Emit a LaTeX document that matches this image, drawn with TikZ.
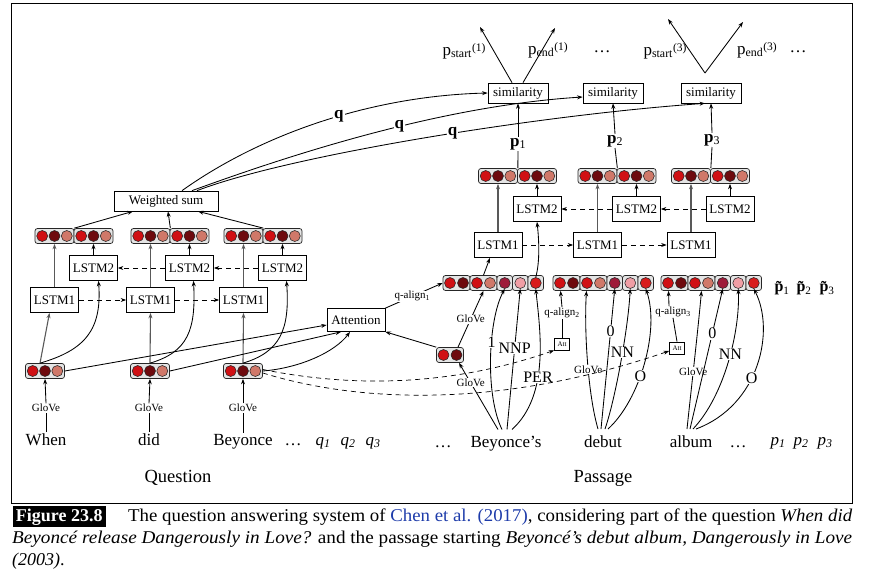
\documentclass[tikz,border=0pt]{standalone}
\usepackage{fontspec}
\setmainfont{Liberation Serif}
\usepackage{graphicx}
\usetikzlibrary{arrows.meta}
\definecolor{cR}{RGB}{208,16,20}
\definecolor{cR2}{RGB}{216,28,28}
\definecolor{cD}{RGB}{110,10,14}
\definecolor{cS}{RGB}{208,120,105}
\definecolor{cC}{RGB}{158,27,58}
\definecolor{cP}{RGB}{240,158,165}
\definecolor{chen}{RGB}{30,60,170}
\newcommand{\vthree}[3]{%
  \node[vbox, minimum width=39pt] (#1) at (#2,#3) {};
  \node[cir, fill=cR] (#1-1) at ([xshift=-12.3pt]#1.center) {};
  \node[cir, fill=cD] (#1-2) at (#1.center) {};
  \node[cir, fill=cS] (#1-3) at ([xshift=12.3pt]#1.center) {};}
\newcommand{\vpass}[3]{%
  \node[vbox, minimum width=27pt] (#1-b1) at (#2+13.5,#3) {};
  \node[vbox, minimum width=27pt] (#1-b2) at (#2+40.5,#3) {};
  \node[vbox, minimum width=15.5pt] (#1-b3) at (#2+61.75,#3) {};
  \node[vbox, minimum width=15.5pt] (#1-b4) at (#2+77.25,#3) {};
  \node[vbox, minimum width=15.5pt] (#1-b5) at (#2+92.75,#3) {};
  \node[cir, fill=cR] (#1-c1) at (#2+7,#3) {};
  \node[cir, fill=cD] (#1-c2) at (#2+20,#3) {};
  \node[cir, fill=cR] (#1-c3) at (#2+34,#3) {};
  \node[cir, fill=cS] (#1-c4) at (#2+47,#3) {};
  \node[cir, fill=cC] (#1-c5) at (#2+61.75,#3) {};
  \node[cir, fill=cP] (#1-c6) at (#2+77.25,#3) {};
  \node[cir, fill=cR2] (#1-c7) at (#2+92.75,#3) {};}
\newcommand{\ptil}[1]{{\bfseries p\char"0303}\textsubscript{#1}}
\newcommand{\pout}[2]{p\textsubscript{#1}\raisebox{4pt}{\fontsize{11.5}{12}\selectfont(#2)}}
\begin{document}
\begin{tikzpicture}[x=1pt,y=-1pt,
  boxn/.style={draw, line width=0.7pt, fill=white, inner sep=0pt, minimum width=48pt, minimum height=25pt, font=\fontsize{13}{15}\selectfont},
  simbox/.style={boxn, minimum width=60pt, minimum height=20pt},
  attbox/.style={draw, line width=0.7pt, fill=white, inner sep=0pt, minimum width=15pt, minimum height=12pt, font=\fontsize{7}{8}\selectfont},
  vbox/.style={draw=black!85, line width=0.7pt, rounded corners=2.5pt, fill=black!10, minimum height=15pt, inner sep=0pt},
  cir/.style={circle, draw=black!85, line width=0.55pt, minimum size=11pt, inner sep=0pt},
  arr/.style={-{Stealth[length=5.5pt,width=4pt]}, line width=0.85pt},
  garr/.style={arr, draw=black!65, line width=1.1pt},
  darr/.style={arr, dash pattern=on 5pt off 4pt},
  plain/.style={line width=0.85pt},
  glab/.style={fill=white, inner sep=0.6pt, font=\fontsize{11}{12}\selectfont},
  qlab/.style={fill=white, inner sep=0.6pt, font=\fontsize{11}{12}\selectfont},
  flab/.style={fill=white, inner sep=0.6pt, font=\fontsize{16}{18}\selectfont},
  wordt/.style={inner sep=1pt, anchor=base, font=\fontsize{17}{20}\selectfont},
  bigt/.style={inner sep=1pt, font=\fontsize{18.5}{22}\selectfont},
  blab/.style={fill=white, inner sep=1pt, font=\fontsize{17}{20}\selectfont},
  plab/.style={inner sep=1pt, font=\fontsize{17}{20}\selectfont},
  capt/.style={inner sep=0pt, anchor=base west, font=\fontsize{18}{22}\selectfont}
]
\useasboundingbox (0,0) rectangle (875,572);
\draw[line width=1pt] (11,4) rectangle (852,503);

% ---------------- Question side ----------------
\vthree{qv1}{45}{371}
\vthree{qv2}{150}{371}
\vthree{qv3}{243}{371}
\node[glab] (gq1) at (46,408) {GloVe};
\node[glab] (gq2) at (149,408) {GloVe};
\node[glab] (gq3) at (243,408) {GloVe};
\node[wordt] (w1) at (46,445) {When};
\node[wordt] (w2) at (149,445) {did};
\node[wordt] (w3) at (243,445) {Beyonce};
\node[wordt] (qdots) at (293,445) {\dots};
\node[wordt] (qq1) at (323,445) {\textit{q}\textsubscript{\textit{1}}};
\node[wordt] (qq2) at (348,445) {\textit{q}\textsubscript{\textit{2}}};
\node[wordt] (qq3) at (373,445) {\textit{q}\textsubscript{\textit{3}}};
\node[bigt] (question) at (178,478) {Question};

\foreach \i in {1,2,3}{
  \draw[plain] (w\i.north) -- (gq\i.south);
  \draw[arr] (gq\i.north) -- (qv\i.south);
}

\node[boxn] (l1a) at (54.5,300) {LSTM1};
\node[boxn] (l1b) at (150.5,300) {LSTM1};
\node[boxn] (l1c) at (243.5,300) {LSTM1};
\node[boxn] (l2a) at (93.5,268) {LSTM2};
\node[boxn] (l2b) at (189.5,268) {LSTM2};
\node[boxn] (l2c) at (282.5,268) {LSTM2};

\vthree{ta-L}{54.5}{236}
\vthree{ta-R}{93.5}{236}
\vthree{tb-L}{150.5}{236}
\vthree{tb-R}{189.5}{236}
\vthree{tc-L}{243.5}{236}
\vthree{tc-R}{282.5}{236}

\node[boxn, minimum width=104pt, minimum height=20pt] (ws) at (166,201) {Weighted sum};
\node[boxn, minimum width=58pt, minimum height=23pt] (att) at (356,320) {Attention};

\draw[garr] ([xshift=-5pt]qv1.north) -- ([xshift=-5pt]l1a.south);
\draw[garr] (qv2.north) -- (l1b.south);
\draw[garr] (qv3.north) -- (l1c.south);
\draw[arr] ([xshift=-5pt]qv1.north) .. controls (85,350) and (102,330) .. ([xshift=5pt]l2a.south);
\draw[arr] (qv2.north) .. controls (188,352) and (196,330) .. ([xshift=4pt]l2b.south);
\draw[arr] (qv3.north) .. controls (280,352) and (290,330) .. ([xshift=4pt]l2c.south);

\draw[garr] (l1a.north) -- (ta-L.south);
\draw[garr] (l1b.north) -- (tb-L.south);
\draw[garr] (l1c.north) -- (tc-L.south);
\draw[arr] (l2a.north) -- (ta-R.south);
\draw[arr] (l2b.north) -- (tb-R.south);
\draw[arr] (l2c.north) -- (tc-R.south);

\draw[darr] (l1a.east) -- (l1b.west);
\draw[darr] (l1b.east) -- (l1c.west);
\draw[darr] (l2c.west) -- (l2b.east);
\draw[darr] (l2b.west) -- (l2a.east);

\draw[arr] (ta-L.north east) -- ([xshift=-33pt]ws.south);
\draw[arr] (tb-L.north east) -- ([xshift=2pt]ws.south);
\draw[arr] (tc-L.north east) -- ([xshift=32pt]ws.south);

\draw[arr] (qv1.east) -- ([yshift=-5pt]att.west);
\draw[arr] (qv2.east) -- ([xshift=-15pt]att.south);
\draw[arr] (qv3.east) .. controls (300,368) and (335,352) .. ([xshift=-6pt]att.south);

% ---------------- Passage side ----------------
\vpass{pv1}{443}{283}
\vpass{pv2}{553}{283}
\vpass{pv3}{661}{283}
\node[vbox, minimum width=27pt] (sv) at (450,355) {};
\node[cir, fill=cR] (sv-1) at (443.5,355) {};
\node[cir, fill=cD] (sv-2) at (456.5,355) {};

\node[boxn] (pl1a) at (498,245) {LSTM1};
\node[boxn] (pl1b) at (597.5,245) {LSTM1};
\node[boxn] (pl1c) at (691,245) {LSTM1};
\node[boxn] (pl2a) at (537,209) {LSTM2};
\node[boxn] (pl2b) at (636.5,209) {LSTM2};
\node[boxn] (pl2c) at (730,209) {LSTM2};

\vthree{pa-L}{498}{176}
\vthree{pa-R}{537}{176}
\vthree{pb-L}{597.5}{176}
\vthree{pb-R}{636.5}{176}
\vthree{pc-L}{691}{176}
\vthree{pc-R}{730}{176}

\draw[garr] (pl1a.north) -- (pa-L.south);
\draw[garr] (pl1b.north) -- (pb-L.south);
\draw[garr] (pl1c.north) -- (pc-L.south);
\draw[arr] (pl2a.north) -- (pa-R.south);
\draw[arr] (pl2b.north) -- (pb-R.south);
\draw[arr] (pl2c.north) -- (pc-R.south);
\draw[darr] (pl1a.east) -- (pl1b.west);
\draw[darr] (pl1b.east) -- (pl1c.west);
\draw[darr] (pl2c.west) -- (pl2b.east);
\draw[darr] (pl2b.west) -- (pl2a.east);

\draw[arr] (pv1-b2.north) -- ([xshift=-8pt]pl1a.south);
\draw[arr] (pv1-c7.north) .. controls (540,262) and (539,240) .. (pl2a.south);

\node[blab] (P1) at (518,144) {\textbf{p}\textsubscript{1}};
\node[blab] (P2) at (615,141) {\textbf{p}\textsubscript{2}};
\node[blab] (P3) at (712,140) {\textbf{p}\textsubscript{3}};

\node[simbox] (s1) at (518,93) {similarity};
\node[simbox] (s2) at (613,93) {similarity};
\node[simbox] (s3) at (711,93) {similarity};

\draw[plain] (pa-L.north east) -- (P1.south);
\draw[plain] (pb-L.north east) -- (P2.south);
\draw[plain] (pc-L.north east) -- (P3.south);
\draw[arr] (P1.north) -- (s1.south);
\draw[arr] (P2.north) -- (s2.south);
\draw[arr] (P3.north) -- (s3.south);

\coordinate (o1) at (480,27);
\coordinate (o2) at (555,28);
\coordinate (vx) at (705,73);
\coordinate (o3) at (668,19);
\coordinate (o4) at (743,22);
\draw[arr] ([xshift=-6pt]s1.north) -- (o1);
\draw[arr] ([xshift=5pt]s1.north) -- (o2);
\draw[arr] (vx) -- (o3);
\draw[arr] (vx) -- (o4);
\node[plab] (ps1) at (464,51) {\pout{start}{1}};
\node[plab] (pe1) at (548,50) {\pout{end}{1}};
\node[plab] (dots1) at (602,52) {\dots};
\node[plab] (ps3) at (665,51) {\pout{start}{3}};
\node[plab] (pe3) at (757,50) {\pout{end}{3}};
\node[plab] (dots3) at (798,52) {\dots};

% q curves
\draw[arr] ([xshift=16pt]ws.north) .. controls (260,135) and (370,96) .. node[blab,pos=0.56]{\textbf{q}} (s1.west);
\draw[arr] ([xshift=26pt]ws.north) .. controls (290,155) and (440,106) .. node[blab,pos=0.57]{\textbf{q}} ([yshift=-4pt]s2.west);
\draw[arr] ([xshift=31pt]ws.north) .. controls (290,155) and (540,115) .. node[blab,pos=0.55]{\textbf{q}} ([xshift=-6pt]s3.south);

% words of the passage
\node[wordt] (pdots1) at (443,447) {\dots};
\node[wordt] (bw) at (506,447) {Beyonce’s};
\node[wordt] (dw) at (603,447) {debut};
\node[wordt] (aw) at (691,447) {album};
\node[wordt] (pdots2) at (738,447) {\dots};
\node[bigt] (passage) at (603,478) {Passage};
\node[wordt] (pp1) at (778,445) {\textit{p}\textsubscript{\textit{1}}};
\node[wordt] (pp2) at (801,445) {\textit{p}\textsubscript{\textit{2}}};
\node[wordt] (pp3) at (825,445) {\textit{p}\textsubscript{\textit{3}}};
\node[plab, font=\fontsize{16}{18}\selectfont] (pt1) at (782,288) {\ptil{1}};
\node[plab, font=\fontsize{16}{18}\selectfont] (pt2) at (804,288) {\ptil{2}};
\node[plab, font=\fontsize{16}{18}\selectfont] (pt3) at (827,288) {\ptil{3}};

\coordinate (bt) at ([yshift=5pt]bw.north);
\coordinate (dt) at ([yshift=5pt]dw.north);
\coordinate (at) at ([yshift=5pt]aw.north);

% Beyonce's fan
\draw[arr] ([xshift=-8pt]bt) -- node[glab,pos=0.7]{GloVe} ([xshift=9pt]sv.south);
\draw[arr] ([xshift=8pt]sv.north) -- node[glab,pos=0.5]{GloVe} (pv1-b2.south);
\draw[arr] ([xshift=-4pt]bt) .. controls (485,395) and (488,320) .. node[flab,pos=0.6]{1} (pv1-c5.south);
\draw[arr] ([xshift=1pt]bt) -- node[flab,pos=0.58]{NNP} (pv1-c6.south);
\draw[arr] ([xshift=6pt]bt) .. controls (550,395) and (540,330) .. node[flab,pos=0.4]{PER} (pv1-c7.south);

% debut fan
\draw[arr] ([xshift=-5pt]dt) .. controls (588,395) and (584,330) .. node[glab,pos=0.45]{GloVe} ([xshift=-7pt]pv2-b2.south);
\draw[arr] ([xshift=-2pt]dt) -- node[flab,pos=0.7]{0} (pv2-c5.south);
\draw[arr] ([xshift=2pt]dt) .. controls (615,400) and (628,330) .. node[flab,pos=0.57]{NN} (pv2-c6.south);
\draw[arr] ([xshift=5pt]dt) .. controls (640,400) and (660,330) .. node[flab,pos=0.42]{O} (pv2-c7.south);

% album fan
\draw[arr] ([xshift=-4pt]at) .. controls (690,400) and (698,330) .. node[glab,pos=0.45]{GloVe} (pv3-b2.south);
\draw[arr] ([xshift=-1pt]at) -- node[flab,pos=0.68]{0} (pv3-c5.south);
\draw[arr] ([xshift=2pt]at) .. controls (725,395) and (740,330) .. node[flab,pos=0.55]{NN} (pv3-c6.south);
\draw[arr] ([xshift=5pt]at) .. controls (760,405) and (775,330) .. node[flab,pos=0.42]{O} (pv3-c7.south);

% attention and alignment
\node[attbox] (att2) at (562,344) {Att};
\node[attbox] (att3) at (677,348) {Att};
\node[qlab] (qa2) at (562,313) {q-align\textsubscript{2}};
\node[qlab] (qa3) at (673,312) {q-align\textsubscript{3}};
\draw[plain] (att2.north) -- (qa2.south);
\draw[arr] (qa2.north) -- ([xshift=-6pt]pv2-b1.south);
\draw[plain] (att3.north) -- (qa3.south);
\draw[arr] ([xshift=-4pt]qa3.north) -- ([xshift=-6pt]pv3-b1.south);
\draw[arr] (sv.north west) -- (att.south east);
\draw[arr] (att.north east) -- node[qlab,pos=0.47]{q-align\textsubscript{1}} (pv1-b1.west);

\draw[darr, line width=0.7pt] ([yshift=1.5pt]qv3.east) .. controls (340,385) and (440,390) .. (att2.south west);
\draw[darr, line width=0.7pt] ([yshift=-2pt]qv3.east) .. controls (350,400) and (490,412) .. ([yshift=-3pt]att3.west);

% ---------------- caption ----------------
\node[fill=black, text=white, inner xsep=3pt, inner ysep=2.2pt, anchor=base west, font=\bfseries\fontsize{18}{22}\selectfont] (fig) at (12.7,521) {Figure 23.8};
\node[capt] (cap1) at (128,521) {\resizebox{724pt}{\height}{The question answering system of \textcolor{chen}{Chen et al. (2017)}, considering part of the question \textit{When did}}};
\node[capt] (cap2) at (12,543) {\resizebox{840pt}{\height}{\textit{Beyoncé release Dangerously in Love?} and the passage starting \textit{Beyoncé’s debut album, Dangerously in Love}}};
\node[capt] (cap3) at (12,565) {\textit{(2003)}.};
\end{tikzpicture}
\end{document}
